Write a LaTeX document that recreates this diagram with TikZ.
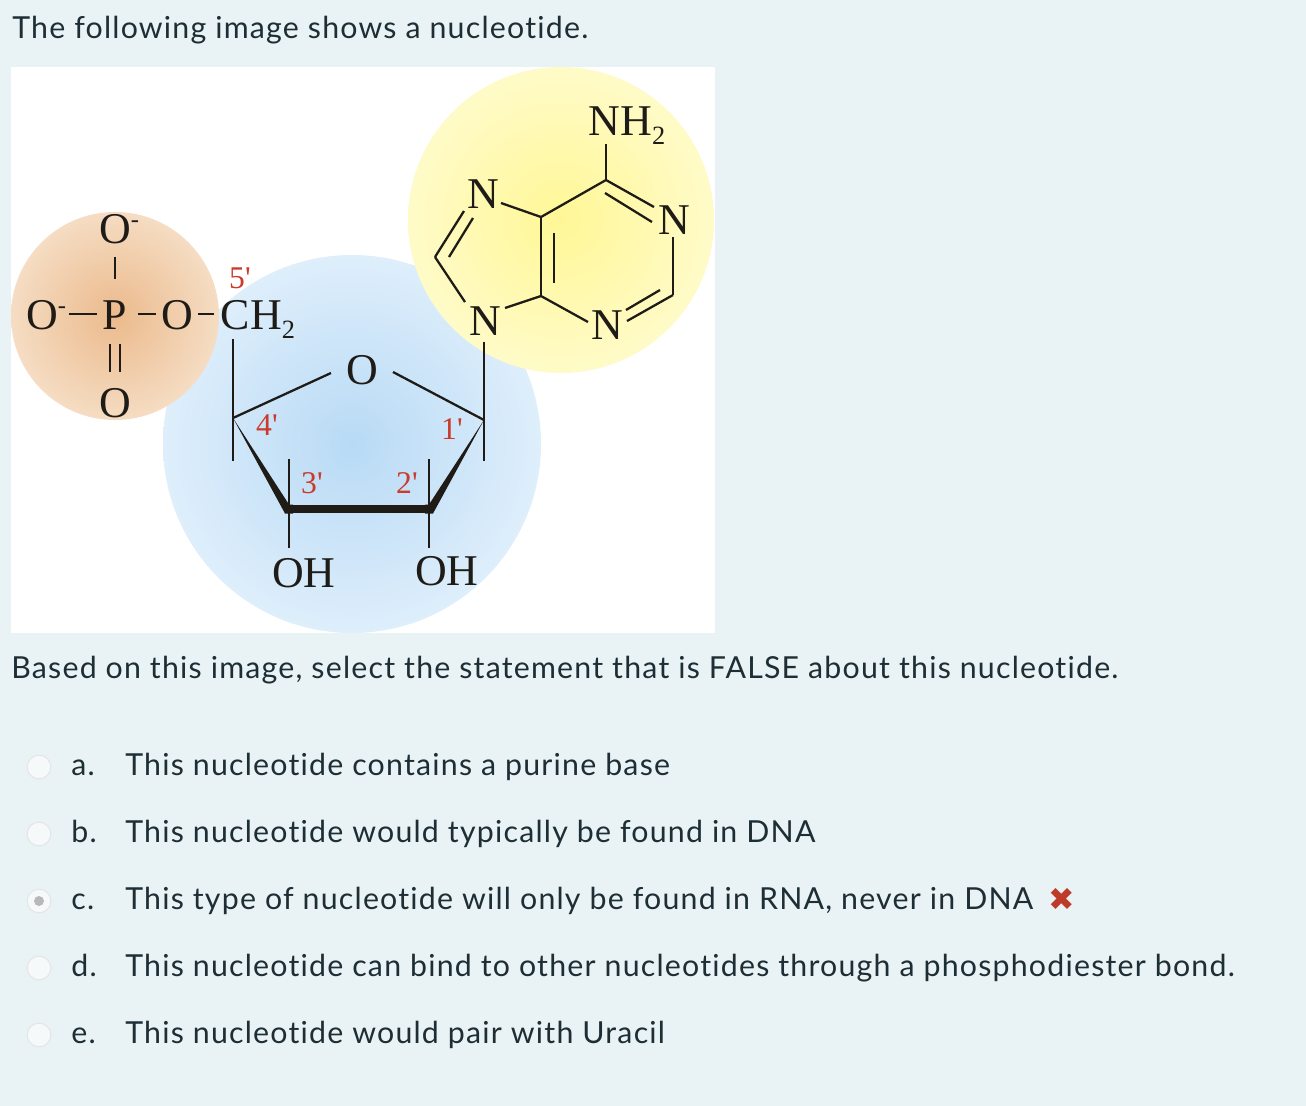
\documentclass[tikz,border=0pt]{standalone}
\usepackage{fontspec}
\setmainfont{Lato}[LetterSpace=4,Ligatures=NoCommon]
\newfontfamily\bondfont{Liberation Serif}
\newfontfamily\markfont{DejaVu Sans}
\definecolor{pagebg}{HTML}{E9F2F5}
\definecolor{inktext}{HTML}{1E2E35}
\definecolor{inkbond}{HTML}{1F1C18}
\definecolor{labelred}{HTML}{CB3A2C}
\definecolor{crossred}{HTML}{BE3B2A}
\definecolor{phosin}{RGB}{235,186,140}
\definecolor{phosout}{RGB}{248,230,210}
\definecolor{sugarin}{RGB}{184,218,245}
\definecolor{sugarout}{RGB}{233,244,253}
\definecolor{basein}{RGB}{255,247,150}
\definecolor{baseout}{RGB}{255,252,214}
\pgfdeclareradialshading{phosphateball}{\pgfpoint{0bp}{0bp}}{color(0bp)=(phosin);color(32bp)=(phosout);color(50bp)=(phosout)}
\pgfdeclareradialshading{sugarball}{\pgfpoint{0bp}{0bp}}{color(0bp)=(sugarin);color(32bp)=(sugarout);color(50bp)=(sugarout)}
\pgfdeclareradialshading{baseball}{\pgfpoint{0bp}{0bp}}{color(0bp)=(basein);color(32bp)=(baseout);color(50bp)=(baseout)}
\newcommand{\chargemark}{\rlap{\raisebox{9pt}{\fontsize{14}{14}\selectfont -}}}
\newcommand{\subtwo}{\raisebox{-5.5pt}{\fontsize{15}{15}\selectfont 2}}
\tikzset{
  uitext/.style={anchor=base west, inner sep=0pt, text=inktext, font=\fontsize{17.25}{20}\selectfont},
  atom/.style={anchor=base, inner sep=3pt, text=inkbond, text height=17pt, text depth=0pt, font=\bondfont\fontsize{25}{28}\selectfont},
  primelabel/.style={anchor=base, inner sep=0pt, text=labelred, font=\bondfont\fontsize{18}{20}\selectfont},
  bond/.style={draw=inkbond, line width=1.3pt},
  radio/.style={circle, draw=black!10, fill=white!55!pagebg, line width=0.6pt, minimum size=13.5pt, inner sep=0pt},
}
\begin{document}
\begin{tikzpicture}[x=0.02cm, y=-0.02cm]

        % Page and white image panel
        \fill[pagebg] (0,0) rectangle (1306,1106);
        \fill[white] (11,67) rectangle (715,633);
        \useasboundingbox (0,0) rectangle (1306,1106);

        % Coloured balls
        \shade[shading=sugarball] (352,444) circle [radius=189];
        \shade[shading=baseball] (561,220) circle [radius=153];
        \shade[shading=phosphateball] (115,316) circle [radius=104];

        % Phosphate group
        \node[atom] (Otop) at (115,243) {O\chargemark};
        \node[atom] (P) at (115,329) {P};
        \node[atom] (Oleft) at (42,329) {O\chargemark};
        \node[atom] (Omid) at (177,329) {O};
        \node[atom] (CH2) at (258,329) {CH\subtwo};
        \node[atom] (Obot) at (115,417) {O};
        \coordinate (dblA) at (110,344);
        \coordinate (dblB) at (110,372);
        \coordinate (dblC) at (120,344);
        \coordinate (dblD) at (120,372);
        \draw[bond, shorten <=4.6pt, shorten >=8pt] (Otop) -- (P);
        \draw[bond, shorten <=3pt] (Oleft) -- (P);
        \draw[bond, shorten <=3pt] (P) -- (Omid);
        \draw[bond, shorten >=1pt] (Omid) -- (CH2);
        \draw[bond] (dblA) -- (dblB);
        \draw[bond] (dblC) -- (dblD);

        % Sugar ring
        \node[atom] (Oring) at (362.5,384) {O};
        \node[atom] (OHl) at (304,587) {OH};
        \node[atom] (OHr) at (447,585) {OH};
        \coordinate (cfour) at (233,418);
        \coordinate (cone) at (484,420);
        \coordinate (cthree) at (289,509);
        \coordinate (ctwo) at (429,509);
        \coordinate (cfive) at (233,339);
        \coordinate (cfourdown) at (233,461);
        \coordinate (conedown) at (484,461);
        \coordinate (cthreeup) at (289,459);
        \coordinate (ctwoup) at (429,459);
        \coordinate (cthreedown) at (289,548);
        \coordinate (ctwodown) at (429,548);
        \coordinate (oringl) at (331,373);
        \coordinate (oringr) at (393,372);
        \draw[bond] (cfive) -- (cfourdown);
        \draw[bond] (cfour) -- (oringl);
        \draw[bond] (oringr) -- (cone);
        \draw[bond] (cthreeup) -- (cthreedown);
        \draw[bond] (ctwoup) -- (ctwodown);
        \fill[inkbond] (cfour) -- (285,513.5) -- (293,513.5) -- (293,504.5) -- (289,504.5) -- cycle;
        \fill[inkbond] (cone) -- (433,513.5) -- (425,513.5) -- (425,504.5) -- (429,504.5) -- cycle;
        \draw[inkbond, line width=5.1pt] (cthree) -- (ctwo);

        % Carbon numbers
        \node[primelabel] (five) at (240,288) {5'};
        \node[primelabel] (four) at (267,435) {4'};
        \node[primelabel] (one) at (452,439) {1'};
        \node[primelabel] (three) at (312,493) {3'};
        \node[primelabel] (two) at (407,493) {2'};

        % Adenine base
        \node[atom] (NH2) at (627,135) {NH\subtwo};
        \node[atom] (None) at (674,234) {N};
        \node[atom] (Nthree) at (607,339) {N};
        \node[atom] (Nseven) at (483,208) {N};
        \node[atom] (Nnine) at (485,335) {N};
        \coordinate (csix) at (606,180);
        \coordinate (amino) at (606,144);
        \coordinate (cfiveb) at (541,217);
        \coordinate (cfourb) at (541,296);
        \coordinate (ctwob) at (673,295);
        \coordinate (ceight) at (435,257);
        \coordinate (nonetop) at (654,207);
        \coordinate (ninein) at (652,222);
        \coordinate (sixin) at (605,193);
        \coordinate (nonelow) at (673,237);
        \coordinate (nthreea) at (627,321);
        \coordinate (nthreeb) at (626,310);
        \coordinate (twoin) at (660,290);
        \coordinate (nthreec) at (588,322);
        \coordinate (fivein) at (554,233);
        \coordinate (fourin) at (554,283);
        \coordinate (ninea) at (505,308);
        \coordinate (nineb) at (465,302);
        \coordinate (sevena) at (464,211);
        \coordinate (sevenb) at (473,218);
        \coordinate (eightin) at (449,257);
        \coordinate (sevenc) at (501,203);
        \coordinate (ninedown) at (484,342);
        \draw[bond] (amino) -- (csix);
        \draw[bond] (csix) -- (cfiveb);
        \draw[bond] (csix) -- (nonetop);
        \draw[bond] (sixin) -- (ninein);
        \draw[bond] (nonelow) -- (ctwob);
        \draw[bond] (ctwob) -- (nthreea);
        \draw[bond] (twoin) -- (nthreeb);
        \draw[bond] (nthreec) -- (cfourb);
        \draw[bond] (cfiveb) -- (cfourb);
        \draw[bond] (fivein) -- (fourin);
        \draw[bond] (cfourb) -- (ninea);
        \draw[bond] (nineb) -- (ceight);
        \draw[bond] (ceight) -- (sevena);
        \draw[bond] (eightin) -- (sevenb);
        \draw[bond] (sevenc) -- (cfiveb);
        \draw[bond] (ninedown) -- (conedown);

        % Question text
        \node[uitext] (intro) at (12,38) {The following image shows a nucleotide.};
        \node[uitext] (prompt) at (11,678) {Based on this image, select the statement that is FALSE about this nucleotide.};

        % Answer rows
        \node[radio] (radioa) at (39,767) {};
        \node[radio] (radiob) at (39,834) {};
        \node[radio] (radioc) at (39,901) {};
        \node[radio] (radiod) at (39,968) {};
        \node[radio] (radioe) at (39,1035) {};
        \fill[black!28] (radioc) circle [radius=5];
        \node[uitext] (lettera) at (71,775) {a.};
        \node[uitext] (letterb) at (71,842) {b.};
        \node[uitext] (letterc) at (71,909) {c.};
        \node[uitext] (letterd) at (71,976) {d.};
        \node[uitext] (lettere) at (71,1043) {e.};
        \node[uitext] (answera) at (125,775) {This nucleotide contains a purine base};
        \node[uitext] (answerb) at (125,842) {This nucleotide would typically be found in DNA};
        \node[uitext] (answerc) at (125,909) {This type of nucleotide will only be found in RNA, never in DNA};
        \node[uitext] (answerd) at (125,976) {This nucleotide can bind to other nucleotides through a phosphodiester bond.};
        \node[uitext] (answere) at (125,1043) {This nucleotide would pair with Uracil};
        \node[inner sep=0pt, text=crossred, font=\markfont\fontsize{18}{18}\selectfont] (wrong) at (1062,899) {✖};

      \end{tikzpicture}
\end{document}
